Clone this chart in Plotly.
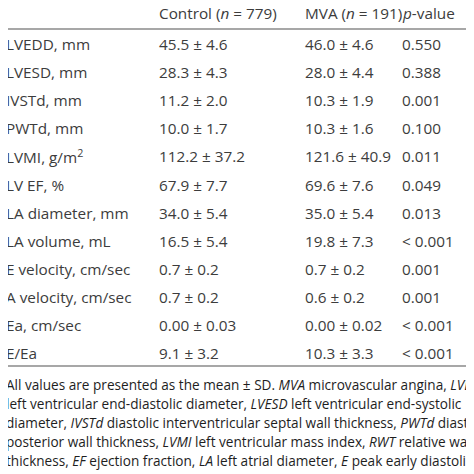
import plotly.graph_objects as go

W = H = 474
parameters = ["LVEDD, mm", "LVESD, mm", "IVSTd, mm", "PWTd, mm", "LVMI, g/m<sup>2</sup>",
              "LV EF, %", "LA diameter, mm", "LA volume, mL", "E velocity, cm/sec",
              "A velocity, cm/sec", "Ea, cm/sec", "E/Ea"]
control = ["45.5 ± 4.6", "28.3 ± 4.3", "11.2 ± 2.0", "10.0 ± 1.7", "112.2 ± 37.2", "67.9 ± 7.7",
           "34.0 ± 5.4", "16.5 ± 5.4", "0.7 ± 0.2", "0.7 ± 0.2", "0.00 ± 0.03", "9.1 ± 3.2"]
mva = ["46.0 ± 4.6", "28.0 ± 4.4", "10.3 ± 1.9", "10.3 ± 1.6", "121.6 ± 40.9", "69.6 ± 7.6",
       "35.0 ± 5.4", "19.8 ± 7.3", "0.7 ± 0.2", "0.6 ± 0.2", "0.00 ± 0.02", "10.3 ± 3.3"]
pvals = ["0.550", "0.388", "0.001", "0.100", "0.011", "0.049", "0.013", "< 0.001", "0.001",
         "0.001", "< 0.001", "< 0.001"]
headers = ["Control (<i>n</i> = 779)", "MVA (<i>n</i> = 191)", "<i>p</i>-value"]
footnote = [
    "All values are presented as the mean ± SD. <i>MVA</i> microvascular angina, <i>LVEDD</i>",
    "left ventricular end-diastolic diameter, <i>LVESD</i> left ventricular end-systolic",
    "diameter, <i>IVSTd</i> diastolic interventricular septal wall thickness, <i>PWTd</i> diastolic",
    "posterior wall thickness, <i>LVMI</i> left ventricular mass index, <i>RWT</i> relative wall",
    "thickness, <i>EF</i> ejection fraction, <i>LA</i> left atrial diameter, <i>E</i> peak early diastolic",
    "mitral filling velocity, <i>Ea</i> mitral septal annular velocity, <i>A</i> peak late diastolic",
    "mitral filling velocity",
]

FONT = "Open Sans"
fig = go.Figure()
def py(p): return 1 - p / H
def px(p): return p / W
ann = []
def txt(x, y, t, size=15.3, color="#3c3c3c"):
    ann.append(dict(x=px(x), y=py(y), xref="paper", yref="paper", text=t, showarrow=False,
                    xanchor="left", yanchor="middle", borderpad=0,
                    font=dict(family=FONT, size=size, color=color)))
cols = [150, 296, 393]
for c, h in zip(cols, headers):
    txt(c, 5, h)
for i in range(len(parameters)):
    y = 36 + i * 28.1
    txt(-3, y, parameters[i]); txt(150, y, control[i]); txt(296, y, mva[i]); txt(393, y, pvals[i])
for j, line in enumerate(footnote):
    txt(-3, 376 + j * 19, line, size=13.6, color="#1e1e1e")
shapes = [dict(type="line", xref="paper", yref="paper", x0=0, x1=1, y0=py(y), y1=py(y),
               line=dict(color="#8a8a8a", width=1.5)) for y in (21, 358)]
fig.update_layout(width=W, height=H, margin=dict(l=0, r=0, t=0, b=0, autoexpand=False),
                  paper_bgcolor="white", plot_bgcolor="white", annotations=ann, shapes=shapes,
                  xaxis=dict(visible=False), yaxis=dict(visible=False))
fig.write_html("out.html")
